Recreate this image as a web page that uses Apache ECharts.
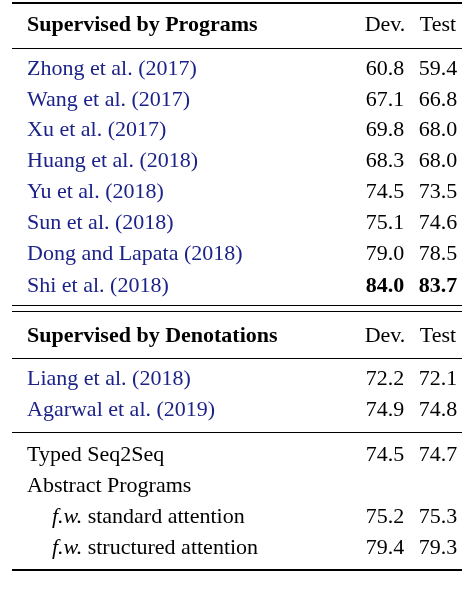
<!DOCTYPE html>
<html><head><meta charset="utf-8">
<script src="https://cdn.jsdelivr.net/npm/echarts@6/dist/echarts.min.js"></script>
<style>html,body{margin:0;padding:0;background:#fff}#chart{width:474px;height:598px}</style>
</head><body><div id="chart"></div>
<script>
// table rows: label, dev, test, style
const rowLabels = [
  "Supervised by Programs",
  "Zhong et al. (2017)", "Wang et al. (2017)", "Xu et al. (2017)", "Huang et al. (2018)",
  "Yu et al. (2018)", "Sun et al. (2018)", "Dong and Lapata (2018)", "Shi et al. (2018)",
  "Supervised by Denotations",
  "Liang et al. (2018)", "Agarwal et al. (2019)",
  "Typed Seq2Seq", "Abstract Programs", "f.w. standard attention", "f.w. structured attention"
];
const devValues = ["Dev.", "60.8", "67.1", "69.8", "68.3", "74.5", "75.1", "79.0", "84.0",
  "Dev.", "72.2", "74.9", "74.5", "", "75.2", "79.4"];
const testValues = ["Test", "59.4", "66.8", "68.0", "68.0", "73.5", "74.6", "78.5", "83.7",
  "Test", "72.1", "74.8", "74.7", "", "75.3", "79.3"];
const rowKind = ["head", "cite", "cite", "cite", "cite", "cite", "cite", "cite", "citebold",
  "head", "cite", "cite", "plain", "plain", "fw", "fw"];
const rowY = [25, 69, 100, 130, 161, 192, 223, 254, 286, 336, 379, 410, 455, 486, 517, 548];
const ruleY = [3, 48, 305, 311, 358, 432, 570];
const ruleW = [2, 1, 1, 1, 1, 1, 2];

const BLUE = "#1c2388";
const chart = echarts.init(document.getElementById("chart"));
const labelData = [], devData = [], testData = [];
rowLabels.forEach((t, i) => {
  const k = rowKind[i];
  let fmt = t;
  if (k === "fw") fmt = "{i|f.w.} " + t.slice(5);
  labelData.push({ value: [k === "fw" ? 52 : 27, rowY[i]], label: {
    formatter: fmt,
    color: (k === "cite" || k === "citebold") ? BLUE : "#000",
    fontWeight: k === "head" ? "bold" : "normal" } });
  const b = k === "citebold" ? "bold" : "normal";
  devData.push({ value: [385, rowY[i]], label: { formatter: devValues[i], fontWeight: b } });
  testData.push({ value: [438, rowY[i]], label: { formatter: testValues[i], fontWeight: b } });
});
const font = { fontFamily: "Liberation Serif", fontSize: 22, color: "#000", opacity: 1 };
const base = { type: "scatter", symbolSize: 0, itemStyle: { opacity: 1 } };
chart.setOption({
  animation: false,
  grid: { left: 0, right: 0, top: 0, bottom: 0 },
  xAxis: { type: "value", min: 0, max: 474, show: false },
  yAxis: { type: "value", min: 0, max: 598, inverse: true, show: false },
  series: [
    Object.assign({}, base, { data: labelData,
      label: Object.assign({ show: true, position: "inside", align: "left",
        rich: { i: { fontFamily: "Liberation Serif", fontSize: 22, fontStyle: "italic", color: "#000" } } }, font),
      markLine: { symbol: "none", silent: true, label: { show: false },
        data: ruleY.map((y, i) => [
          { coord: [12, y], lineStyle: { color: "#000", width: ruleW[i], type: "solid", opacity: 1 } },
          { coord: [462, y] }]) } }),
    Object.assign({}, base, { data: devData,
      label: Object.assign({ show: true, position: "inside", align: "center" }, font) }),
    Object.assign({}, base, { data: testData,
      label: Object.assign({ show: true, position: "inside", align: "center" }, font) })
  ]
});
</script></body></html>
